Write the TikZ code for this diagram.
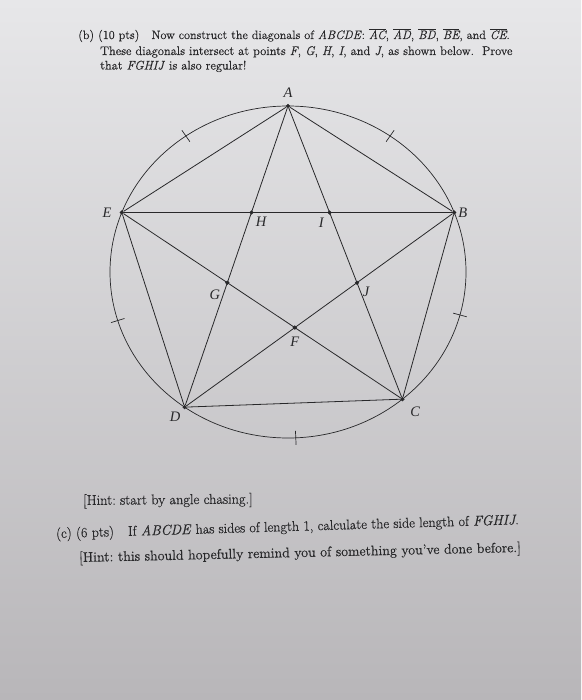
\documentclass[tikz,border=0pt]{standalone}
\usepackage{fontspec}
\setmainfont{Latin Modern Roman}[FakeBold=0.5]
\usetikzlibrary{calc}
\newfontfamily\figfont{Liberation Serif}
\newcommand{\mi}[1]{\textit{#1}}
\newcommand{\seg}[1]{$\overline{\mbox{\itshape #1}}$}

\definecolor{ink}{RGB}{40,40,42}
\definecolor{bgtop}{RGB}{231,231,233}
\definecolor{bgmid}{RGB}{216,215,218}
\definecolor{bgbot}{RGB}{184,182,185}

\tikzstyle{vtx}=[draw=ink,circle,fill=ink,inner sep=0pt,minimum size=3.8pt]
\tikzstyle{ed}=[color=ink,line width=0.8pt]
\tikzstyle{tck}=[color=ink,line width=0.7pt]
\tikzstyle{txt}=[anchor=base west,inner sep=0pt,text=ink]

\begin{document}
\begin{tikzpicture}[x=1pt,y=-1pt,
    every label/.style={text=ink,inner sep=2pt,font=\figfont\itshape\fontsize{14.5}{16}\selectfont}]
  \shade[top color=bgtop,middle color=bgmid,bottom color=bgbot] (0,0) rectangle (581,700);
  \useasboundingbox (0,0) rectangle (581,700);

  % question text
  \node[txt] (partb) at (78,39) {\fontsize{12.2}{14}\selectfont (b)\ (10 pts)\quad Now construct the diagonals of \mi{ABCDE}: \seg{AC}, \seg{AD}, \seg{BD}, \seg{BE}, and \seg{CE}.};
  \node[txt] (partb2) at (100,55) {\fontsize{12.45}{14}\selectfont These diagonals intersect at points \mi{F},\ \mi{G},\ \mi{H},\ \mi{I}, and \mi{J}, as shown below.\ \ Prove};
  \node[txt] (partb3) at (100,69.5) {\fontsize{12.45}{14}\selectfont that \mi{FGHIJ} is also regular!};

  % circle and pentagon
  \begin{scope}[shift={(288,272)}]
    \coordinate (o) at (0,0);
    \draw[ed,line width=0.7pt] (o) ellipse [x radius=178, y radius=166];

    \node[vtx,label={[label distance=4pt]above:A}] (a) at (270:178 and 166) {};
    \node[vtx,label=right:B] (b) at (339:178 and 166) {};
    \node[vtx,label={[label distance=6pt]below right:C}] (c) at (50:178 and 166) {};
    \node[vtx,label={[label distance=1pt]below left:D}] (d) at (125.5:178 and 166) {};
    \node[vtx,label={[label distance=6pt]left:E}] (e) at (201:178 and 166) {};

    % ticks on the arcs
    \foreach \t in {235,305,15,87.5,163}
      \draw[tck] (\t:171 and 159) -- (\t:185 and 173);

    % sides
    \path (a) edge [ed] (b);
    \path (b) edge [ed] (c);
    \path (c) edge [ed] (d);
    \path (d) edge [ed] (e);
    \path (e) edge [ed] (a);

    % diagonals
    \path (a) edge [ed] (c);
    \path (a) edge [ed] (d);
    \path (b) edge [ed] (d);
    \path (b) edge [ed] (e);
    \path (c) edge [ed] (e);

    \node[vtx,label={[label distance=5pt]below:F}] (f) at (intersection of b--d and c--e) {};
    \node[vtx,label={[label distance=5pt]below left:G}] (g) at (intersection of a--d and c--e) {};
    \node[vtx,label={[label distance=1pt]below right:H}] (h) at (intersection of a--d and e--b) {};
    \node[vtx,label={[label distance=3pt]below left:I}] (i) at (intersection of a--c and e--b) {};
    \node[vtx,label={[label distance=2pt]-25:J}] (j) at (intersection of a--c and b--d) {};
  \end{scope}

  % hints and part (c)
  \node[txt,rotate=0.5] (hint1) at (83,505) {\fontsize{14.3}{16}\selectfont [Hint:\ start by angle chasing.]};
  \node[txt,rotate=1.7] (partc) at (56,538) {\fontsize{14.1}{16}\selectfont (c)\ (6 pts)\quad If \mi{ABCDE} has sides of length 1, calculate the side length of \mi{FGHIJ}.};
  \node[txt,rotate=1.3] (hint2) at (79,562) {\fontsize{14}{16}\selectfont [Hint:\ this should hopefully remind you of something you've done before.]};
\end{tikzpicture}
\end{document}
